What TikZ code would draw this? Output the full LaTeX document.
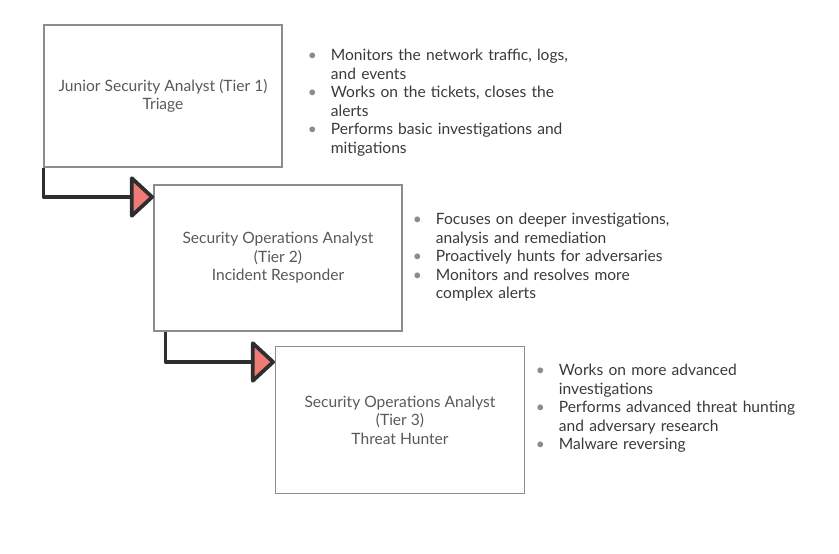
\documentclass[tikz,border=0pt]{standalone}
\usepackage{fontspec}
\setmainfont{Lato}
\usepackage{enumitem}
\usetikzlibrary{positioning,arrows.meta}
\definecolor{boxline}{HTML}{8C8C8C}
\definecolor{boxtext}{HTML}{595959}
\definecolor{listtext}{HTML}{3A3A3A}
\definecolor{tipfill}{HTML}{EE7B76}
\definecolor{stepline}{HTML}{2E2E2E}
\tikzset{
    tierbox/.style={
        rectangle, draw=boxline, line width=0.9pt,
        minimum width=7.3cm, minimum height=4.35cm,
        align=center, text=boxtext, font=\fontsize{13.3}{15.8}\selectfont
    },
    duties/.style={
        anchor=north west, text width=7.8cm, text=listtext,
        font=\fontsize{13.3}{15.8}\selectfont, inner sep=0pt
    },
    promote/.style={
        line width=3.2pt, draw=stepline, line join=round,
        -{Triangle[length=0.75cm, width=1.36cm, fill=tipfill, line join=round]}
    }
}
\setlist[itemize]{leftmargin=0.62cm, labelsep=0.42cm, itemsep=0pt, topsep=0pt, parsep=0pt, label={\textcolor{boxline}{\textbullet}}}
\begin{document}
\begin{tikzpicture}[x=0.03cm, y=-0.03cm]
	\useasboundingbox (0,0) rectangle (839,553);
	
	% BOXES
	\node (tier1) [tierbox, minimum width=7.14cm, minimum height=4.26cm] at (163,96) {Junior Security Analyst (Tier 1)\\Triage};
	\node (tier2) [tierbox, minimum width=7.44cm, minimum height=4.38cm] at (278,258) {Security Operations Analyst\\(Tier 2)\\Incident Responder};
	\node (tier3) [tierbox, minimum width=7.47cm, minimum height=4.41cm] at (400,420) {Security Operations Analyst\\(Tier 3)\\Threat Hunter};
	
	% DUTIES
	\node (duty1) [duties] at (310,42) {\begin{itemize}
		\item Monitors the network traffic, logs, and events
		\item Works on the tickets, closes the alerts
		\item Performs basic investigations and mitigations
	\end{itemize}};
	\node (duty2) [duties] at (415,206) {\begin{itemize}
		\item Focuses on deeper investigations, analysis and remediation
		\item Proactively hunts for adversaries
		\item Monitors and resolves more\\ complex alerts
	\end{itemize}};
	\node (duty3) [duties] at (538,357) {\begin{itemize}
		\item Works on more advanced investigations
		\item Performs advanced threat hunting and adversary research
		\item Malware reversing
	\end{itemize}};
	
	% ARROWS
	\coordinate (tip1) at (154,197);
	\coordinate (tip2) at (275,362);
	\draw[promote] (tier1.south west) |- (tip1);
	\draw[promote] ([xshift=0.36cm]tier2.south west) |- (tip2);
	
\end{tikzpicture}
\end{document}
